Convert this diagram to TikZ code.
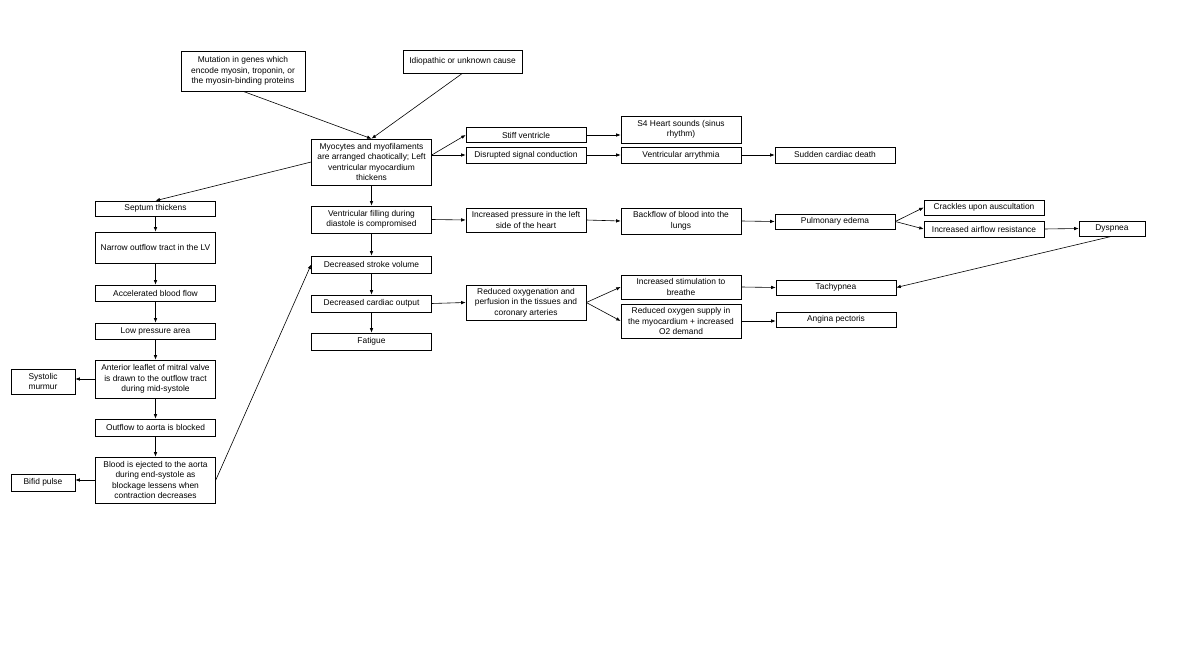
\documentclass[tikz,border=0pt]{standalone}
\usepackage{fontspec}
\setmainfont{Liberation Sans}
\usetikzlibrary{arrows.meta}

\begin{document}
\begin{tikzpicture}[x=1pt, y=-1pt, >={Latex[length=4.5pt,width=3.5pt]},
  every node/.style = {shape=rectangle, draw, line width=0.6pt,
    align=center, inner xsep=2pt, inner ysep=1pt,
    font=\fontsize{8.4}{10.4}\selectfont},
  box/.style = {minimum width=120pt},
  small/.style = {minimum width=64pt},
  every path/.style = {line width=0.6pt}]
  \useasboundingbox (0,0) rectangle (1200,660);

  \node[minimum width=124pt, minimum height=40pt] (mut) at (243,71) {Mutation in genes which\\encode myosin, troponin, or\\the myosin-binding proteins};
  \node[minimum width=119pt, minimum height=23pt] (idio) at (462.5,61.5) {Idiopathic or unknown cause};
  \node[box, minimum height=46pt] (myo) at (371.5,162) {Myocytes and myofilaments\\are arranged chaotically; Left\\ventricular myocardium\\thickens};

  \node[box, minimum height=15pt] (stiff) at (526,135) {Stiff ventricle};
  \node[box, minimum height=16pt] (dis) at (526,155) {Disrupted signal conduction};
  \node[box, minimum height=27pt] (s4) at (681,129.5) {S4 Heart sounds (sinus\\rhythm)};
  \node[box, minimum height=16pt] (arr) at (681,155) {Ventricular arrythmia};
  \node[box, minimum height=16pt] (death) at (835,155) {Sudden cardiac death};

  \node[box, minimum height=27pt] (fill) at (371.5,219.5) {Ventricular filling during\\diastole is compromised};
  \node[box, minimum height=24pt] (press) at (526,220) {Increased pressure in the left\\side of the heart};
  \node[box, minimum height=26pt] (back) at (681,221) {Backflow of blood into the\\lungs};
  \node[box, minimum height=15pt] (edema) at (835,221.5) {Pulmonary edema};
  \node[box, minimum height=15pt] (crack) at (984,207.5) {Crackles upon auscultation};
  \node[box, minimum height=16pt] (airf) at (984,229) {Increased airflow resistance};
  \node[minimum width=66pt, minimum height=15pt] (dysp) at (1112,228.5) {Dyspnea};

  \node[box, minimum height=17pt] (stroke) at (371.5,264.5) {Decreased stroke volume};
  \node[box, minimum height=17pt] (output) at (371.5,303.5) {Decreased cardiac output};
  \node[box, minimum height=17pt] (fatig) at (371.5,341.5) {Fatigue};
  \node[box, minimum height=35pt] (oxy) at (526,302.5) {Reduced oxygenation and\\perfusion in the tissues and\\coronary arteries};
  \node[box, minimum height=24pt] (stim) at (681,287) {Increased stimulation to\\breathe};
  \node[box, minimum height=34pt] (supply) at (681,321) {Reduced oxygen supply in\\the myocardium + increased\\O2 demand};
  \node[box, minimum height=15pt] (tachy) at (836,287.5) {Tachypnea};
  \node[box, minimum height=15pt] (angina) at (836,319.5) {Angina pectoris};

  \node[box, minimum height=15pt] (sept) at (155.5,208.5) {Septum thickens};
  \node[box, minimum height=31pt] (narrow) at (155.5,247.5) {Narrow outflow tract in the LV};
  \node[box, minimum height=16pt] (accel) at (155.5,293) {Accelerated blood flow};
  \node[box, minimum height=16pt] (lowp) at (155.5,331) {Low pressure area};
  \node[box, minimum height=38pt] (ant) at (155.5,379) {Anterior leaflet of mitral valve\\is drawn to the outflow tract\\during mid-systole};
  \node[small, minimum height=25pt] (murmur) at (43,381.5) {Systolic\\murmur};
  \node[box, minimum height=17pt] (outfl) at (155.5,427.5) {Outflow to aorta is blocked};
  \node[box, minimum height=46pt] (blood) at (155.5,480) {Blood is ejected to the aorta\\during end-systole as\\blockage lessens when\\contraction decreases};
  \node[small, minimum height=17pt] (bifid) at (43,482.5) {Bifid pulse};

  \coordinate (myoe) at (myo.east |- dis.west);

  \draw[->] (mut.south) -- (myo.north);
  \draw[->] (idio.south) -- (myo.north);
  \draw[->] (myo.west) -- (sept.north);
  \draw[->] (myoe) -- (stiff.west);
  \draw[->] (myoe) -- (dis.west);
  \draw[->] (stiff.east) -- (s4.west |- stiff.east);
  \draw[->] (dis.east) -- (arr.west);
  \draw[->] (arr.east) -- (death.west);
  \draw[->] (myo.south) -- (fill.north);
  \draw[->] (fill.east) -- (press.west);
  \draw[->] (press.east) -- (back.west);
  \draw[->] (back.east) -- (edema.west);
  \draw[->] (edema.east) -- (crack.west);
  \draw[->] (edema.east) -- (airf.west);
  \draw[->] (airf.east) -- (dysp.west);
  \draw[->] (dysp.south) -- (tachy.east);
  \draw[->] (fill.south) -- (stroke.north);
  \draw[->] (stroke.south) -- (output.north);
  \draw[->] (output.south) -- (fatig.north);
  \draw[->] (output.east) -- (oxy.west);
  \draw[->] (oxy.east) -- (stim.west);
  \draw[->] (oxy.east) -- (supply.west);
  \draw[->] (stim.east) -- (tachy.west);
  \draw[->] (supply.east) -- (angina.west |- supply.east);
  \draw[->] (sept.south) -- (narrow.north);
  \draw[->] (narrow.south) -- (accel.north);
  \draw[->] (accel.south) -- (lowp.north);
  \draw[->] (lowp.south) -- (ant.north);
  \draw[->] (ant.west) -- (murmur.east |- ant.west);
  \draw[->] (ant.south) -- (outfl.north);
  \draw[->] (outfl.south) -- (blood.north);
  \draw[->] (blood.west) -- (bifid.east |- blood.west);
  \draw[->] (blood.east) -- (stroke.west);
\end{tikzpicture}
\end{document}
